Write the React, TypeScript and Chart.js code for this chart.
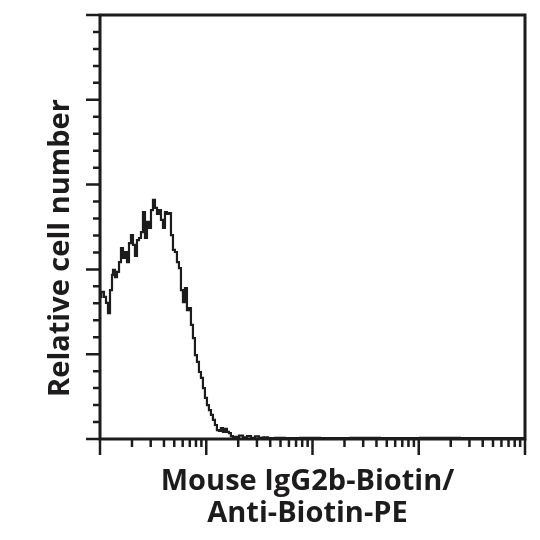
import React, { useEffect, useRef } from "react";
import { Chart, registerables } from "chart.js";

Chart.register(...registerables);

// Fluorescence intensity (log scale, left edge of each histogram bin)
const fluorescence: number[] = [
  1.0, 1.03, 1.09, 1.139, 1.189, 1.242, 1.297, 1.326, 1.384, 1.445, 1.51, 1.576,
  1.646, 1.719, 1.795, 1.874, 1.957, 2.044, 2.134, 2.229, 2.328, 2.431, 2.538,
  2.651, 2.768, 2.891, 3.019, 3.152, 3.292, 3.437, 3.59, 3.748, 3.914, 4.088,
  4.269, 4.457, 4.655, 4.861, 5.076, 5.3, 5.535, 5.78, 6.036, 6.303, 6.582,
  6.873, 7.177, 7.495, 7.827, 8.173, 8.535, 8.913, 9.307, 9.719, 10.15, 10.6,
  11.07, 11.56, 12.07, 12.6, 13.16, 13.74, 14.35, 14.99, 15.65, 16.34, 17.06,
  17.82, 18.61, 19.43, 20.33, 22.18, 24.19, 26.38, 28.76, 31.37, 34.21, 38.13,
  44.37, 55.11, 76.26, 117.7, 225.4, 431.9, 1027, 2444, 5818, 10000,
];

// Relative cell number for each bin
const counts: number[] = [
  65.3, 33.5, 34.7, 33.5, 32.1, 29.7, 35.1, 38.7, 39.9, 38.2, 39.4, 41.7,
  45.0, 42.7, 44.1, 41.7, 46.2, 48.1, 45.8, 43.2, 46.9, 47.4, 48.8,
  53.5, 47.4, 51.2, 49.8, 54.0, 56.4, 54.5, 53.1, 54.0, 51.7, 49.8,
  53.5, 53.1, 53.3, 48.1, 44.6, 44.1, 41.7, 40.3, 35.1, 32.3, 35.6,
  30.4, 30.9, 26.9, 23.8, 19.8, 18.2, 15.8, 14.4, 12.0, 9.7, 8.0,
  6.8, 5.7, 4.5, 3.3, 2.1, 1.9, 2.6, 1.7, 2.4, 1.7, 1.4,
  0.7, 0.5, 0.2, 0.5, 0.8, 0.4, 0.7, 0.3, 0.6, 0.3, 0.4,
  0.2, 0.3, 0.2, 0.3, 0.2, 0.3, 0.2, 0.3, 0.2, 0.2,
];

const xMajorTicks: number[] = [1, 10, 100, 1000, 10000];
const xMinorTicks: number[] = [
  2, 3, 4, 5, 6, 7, 8, 9,
  20, 30, 40, 50, 60, 70, 80, 90,
  200, 300, 400, 500, 600, 700, 800, 900,
  2000, 3000, 4000, 5000, 6000, 7000, 8000, 9000,
];
const yMajorTicks: number[] = [0, 20, 40, 60, 80, 100];
const yMinorTicks: number[] = [
  4, 8, 12, 16, 24, 28, 32, 36, 44, 48, 52, 56, 64, 68, 72, 76, 84, 88, 92, 96,
];

const xTitleLines: string[] = ["Mouse IgG2b-Biotin/", "Anti-Biotin-PE"];
const yTitle = "Relative cell number";

const INK = "#1d1b1c";
const FONT = '700 29px "Open Sans", "Noto Sans", sans-serif';

const framePlugin = {
  id: "flowFrame",
  afterDraw(chart: any) {
    const { ctx, chartArea, scales } = chart;
    const { left, right, top, bottom } = chartArea;
    const xs = scales.x;
    const ys = scales.y;
    ctx.save();
    ctx.strokeStyle = INK;
    ctx.lineCap = "butt";

    // box
    ctx.lineWidth = 3;
    ctx.strokeRect(left, top, right - left, bottom - top);

    // x ticks
    ctx.lineWidth = 2.5;
    ctx.beginPath();
    xMajorTicks.forEach((v) => {
      const px = xs.getPixelForValue(v);
      ctx.moveTo(px, bottom);
      ctx.lineTo(px, bottom + 16);
    });
    xMinorTicks.forEach((v) => {
      const px = xs.getPixelForValue(v);
      ctx.moveTo(px, bottom);
      ctx.lineTo(px, bottom + 8);
    });
    // y ticks
    yMajorTicks.forEach((v) => {
      const py = ys.getPixelForValue(v);
      ctx.moveTo(left, py);
      ctx.lineTo(left - 14, py);
    });
    yMinorTicks.forEach((v) => {
      const py = ys.getPixelForValue(v);
      ctx.moveTo(left, py);
      ctx.lineTo(left - 7, py);
    });
    ctx.stroke();

    // titles
    ctx.fillStyle = INK;
    ctx.font = FONT;
    ctx.textAlign = "center";
    ctx.textBaseline = "alphabetic";
    const cx = (left + right) / 2 - 5;
    xTitleLines.forEach((line, i) => {
      ctx.fillText(line, cx, bottom + 51 + i * 32);
    });
    ctx.translate(left - 31, (top + bottom) / 2 + 21);
    ctx.rotate(-Math.PI / 2);
    ctx.fillText(yTitle, 0, 0);
    ctx.restore();
  },
};

export default function App() {
  const canvasRef = useRef<HTMLCanvasElement | null>(null);

  useEffect(() => {
    const canvas = canvasRef.current;
    if (!canvas) return;
    const points = fluorescence.map((x, i) => ({ x, y: counts[i] }));
    const chart = new Chart(canvas, {
      type: "line",
      data: {
        datasets: [
          {
            data: points,
            borderColor: INK,
            borderWidth: 2.2,
            pointRadius: 0,
            stepped: "after",
            fill: false,
          },
        ],
      },
      options: {
        responsive: false,
        animation: false,
        layout: { padding: { left: 100, right: 15, top: 15, bottom: 101 } },
        scales: {
          x: { type: "logarithmic", min: 1, max: 10000, display: false },
          y: { type: "linear", min: 0, max: 100, display: false },
        },
        plugins: {
          legend: { display: false },
          tooltip: { enabled: false },
        },
      },
      plugins: [framePlugin],
    } as any);
    return () => chart.destroy();
  }, []);

  return (
    <div style={{ position: "absolute", left: 0, top: 0, width: 540, height: 540, background: "#fff" }}>
      <canvas ref={canvasRef} width={540} height={540} />
    </div>
  );
}
